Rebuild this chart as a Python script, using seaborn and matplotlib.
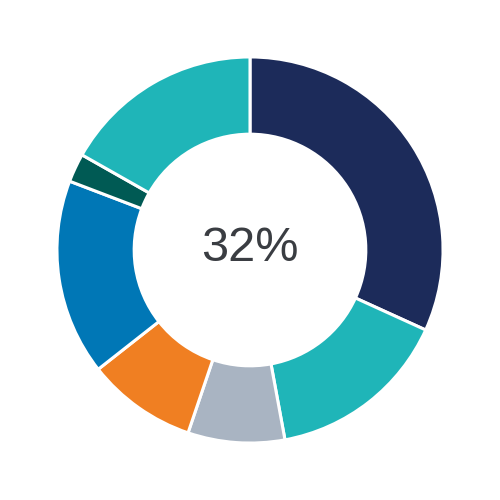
import matplotlib
matplotlib.use("Agg")
import matplotlib.pyplot as plt
import seaborn as sns

# Slice shares, clockwise from 12 o'clock
labels = ["A", "B", "C", "D", "E", "F", "G"]
shares = [31.8, 15.3, 8.1, 9.2, 16.4, 2.4, 16.8]
colors = ["#1c2b5a", "#1fb5b8", "#a9b4c2", "#f07f22", "#0077b6", "#005a54", "#1fb5b8"]
center_label = "32%"

sns.set_theme(style="white")
plt.rcParams["font.family"] = ["Liberation Sans", "DejaVu Sans"]

fig = plt.figure(figsize=(5, 5), dpi=100)
ax = fig.add_axes([0, 0, 1, 1])
ax.pie(shares, colors=colors, startangle=90, counterclock=False, radius=1,
       wedgeprops=dict(width=0.40, edgecolor="white", linewidth=2.2))
ax.text(0, 0.01, center_label, ha="center", va="center", fontsize=35, color="#3a3d42")
ax.set_xlim(-1.295, 1.295)
ax.set_ylim(-1.295, 1.295)
ax.set_aspect("equal")
ax.axis("off")

fig.savefig("out.png", dpi=100, facecolor="white")
